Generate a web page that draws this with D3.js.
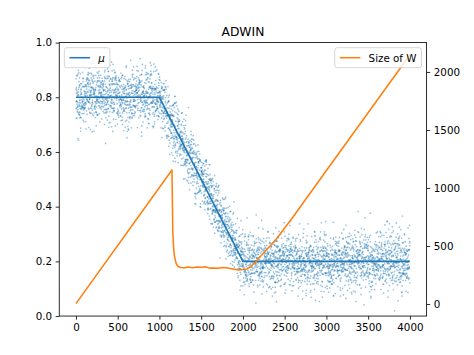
<!DOCTYPE html>
<html><head><meta charset="utf-8">
<script src="https://cdn.jsdelivr.net/npm/d3@7"></script>
<style>
body{margin:0;background:#fff;}
text{font-family:"DejaVu Sans",sans-serif;}
</style></head>
<body><svg id="c" width="474" height="355"></svg>
<script>
// ---- data ----
const title = "ADWIN";
// true mean mu (piecewise linear breakpoints)
const muT = [0, 1000, 2000, 3999];
const muV = [0.8, 0.8, 0.2, 0.2];
// ADWIN window size W (breakpoints)
const wT = [0, 1150, 1155, 1160, 1170, 1180, 1200, 1220, 1250, 1300, 1350, 1400, 1450, 1500, 1550, 1600, 1650, 1700, 1750, 1800, 1850, 1900, 1950, 2000, 2050, 2100, 2150, 2200, 2300, 2400, 2600, 3000, 3999];
const wV = [3, 1155, 900, 620, 480, 410, 350, 325, 315, 312, 318, 313, 318, 316, 320, 309, 311, 308, 314, 312, 305, 300, 292, 298, 302, 325, 360, 402, 480, 560, 750, 1150, 2146];
const nSamples = 4000;      // one noisy sample per time step
const noiseSd = 0.052;      // spread of the sample cloud
const xTicks = [0, 500, 1000, 1500, 2000, 2500, 3000, 3500, 4000];
const yTicks = [0.0, 0.2, 0.4, 0.6, 0.8, 1.0];
const y2Ticks = [0, 500, 1000, 1500, 2000];
const legend1 = "μ";
const legend2 = "Size of W";

// ---- drawing ----
const L = 59.25, R = 426.6, T = 42.6, B = 316.05;
const blue = "#1f77b4", orange = "#ff7f0e";
const svg = d3.select("#c");

const x = d3.scaleLinear().domain([-200, 4200]).range([L, R]);
const y = d3.scaleLinear().domain([0, 1]).range([B, T]);
const y2 = d3.scaleLinear().domain([-104, 2253]).range([B, T]);

// noisy samples around mu (seeded noise cloud)
const muAt = d3.scaleLinear().domain(muT).range(muV);
const rnd = d3.randomNormal.source(d3.randomLcg(0.4217))(0, noiseSd);
const samples = d3.range(nSamples).map(t => [t, muAt(t) + rnd()]);

const plot = svg.append("g");
plot.append("g").selectAll("circle").data(samples).join("circle")
  .attr("cx", d => x(d[0])).attr("cy", d => y(d[1])).attr("r", 0.85)
  .attr("fill", blue).attr("fill-opacity", 0.45);

plot.append("path").datum(muT.map((t, i) => [t, muV[i]]))
  .attr("d", d3.line().x(d => x(d[0])).y(d => y(d[1])))
  .attr("fill", "none").attr("stroke", blue).attr("stroke-width", 1.54);

plot.append("path").datum(wT.map((t, i) => [t, wV[i]]))
  .attr("d", d3.line().x(d => x(d[0])).y(d => y2(d[1])))
  .attr("fill", "none").attr("stroke", orange).attr("stroke-width", 1.54)
  .attr("stroke-linejoin", "round");

// axes
function styleAxis(g) {
  g.select(".domain").remove();
  g.selectAll(".tick line").attr("stroke", "#000").attr("stroke-width", 0.82);
  g.selectAll(".tick text").attr("fill", "#000").style("font-size", "10.3px");
}
svg.append("g").attr("transform", `translate(0,${B})`)
  .call(d3.axisBottom(x).tickValues(xTicks).tickFormat(d3.format("d")).tickSize(3.6).tickPadding(3.6))
  .call(styleAxis);
svg.append("g").attr("transform", `translate(${L},0)`)
  .call(d3.axisLeft(y).tickValues(yTicks).tickFormat(d3.format(".1f")).tickSize(3.6).tickPadding(3.6))
  .call(styleAxis);
svg.append("g").attr("transform", `translate(${R},0)`)
  .call(d3.axisRight(y2).tickValues(y2Ticks).tickFormat(d3.format("d")).tickSize(3.6).tickPadding(3.6))
  .call(styleAxis);

svg.append("rect").attr("x", L).attr("y", T).attr("width", R - L).attr("height", B - T)
  .attr("fill", "none").attr("stroke", "#000").attr("stroke-width", 0.82);

svg.append("text").attr("x", (L + R) / 2).attr("y", T - 6.5).attr("text-anchor", "middle")
  .style("font-size", "12.3px").attr("fill", "#000").text(title);

// legends
function legend(label, color, anchorLeft, italic) {
  const fs = 10.3, pad = 4.1, handle = 20.6, tpad = 8.2;
  const g = svg.append("g");
  const box = g.append("rect");
  const txt = g.append("text").style("font-size", fs + "px").attr("fill", "#000").text(label);
  if (italic) txt.style("font-style", "italic");
  const tw = txt.node().getComputedTextLength();
  const bw = pad * 2 + handle + tpad + tw + 2, bh = 20;
  const bx = anchorLeft ? L + 5.1 : R - 5.1 - bw, by = T + 5.1;
  box.attr("x", bx).attr("y", by).attr("width", bw).attr("height", bh).attr("rx", 2.5)
    .attr("fill", "#fff").attr("fill-opacity", 0.8).attr("stroke", "#cccccc").attr("stroke-width", 0.8);
  g.append("line").attr("x1", bx + pad + 1).attr("x2", bx + pad + 1 + handle)
    .attr("y1", by + bh / 2).attr("y2", by + bh / 2).attr("stroke", color).attr("stroke-width", 1.54);
  txt.attr("x", bx + pad + 1 + handle + tpad).attr("y", by + bh / 2 + 3.8);
}
legend(legend1, blue, true, true);
legend(legend2, orange, false, false);
</script></body></html>
